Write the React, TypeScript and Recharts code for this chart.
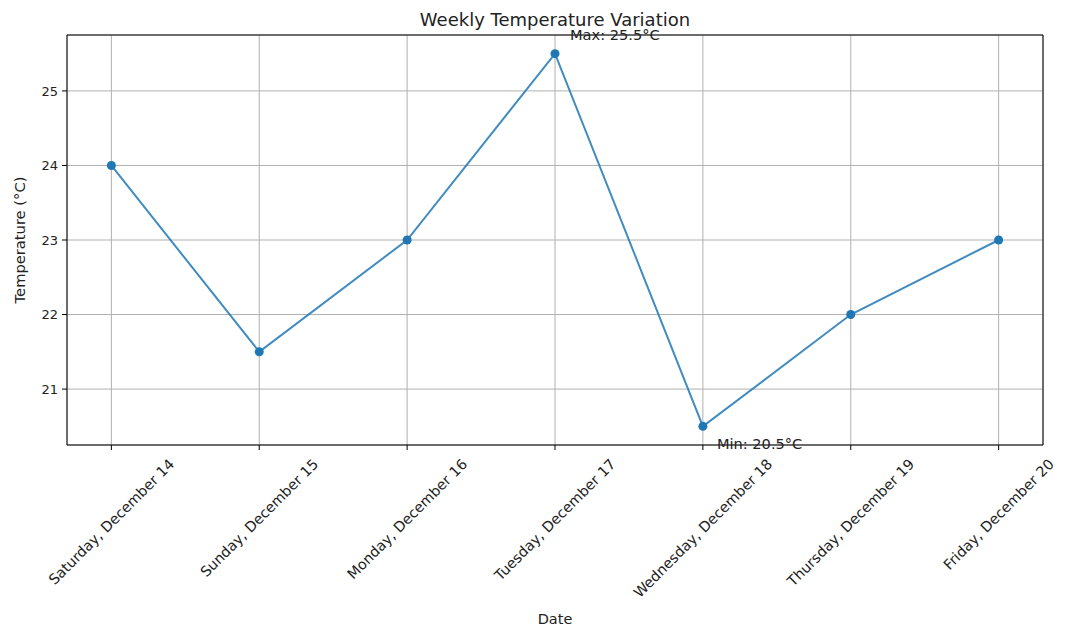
import React from "react";
import {
  LineChart,
  Line,
  XAxis,
  YAxis,
  CartesianGrid,
  ReferenceArea,
} from "recharts";

const dates = [
  "Saturday, December 14",
  "Sunday, December 15",
  "Monday, December 16",
  "Tuesday, December 17",
  "Wednesday, December 18",
  "Thursday, December 19",
  "Friday, December 20",
];
const temps = [24, 21.5, 23, 25.5, 20.5, 22, 23];
const yTicks = [21, 22, 23, 24, 25];
const xTicks = [0, 1, 2, 3, 4, 5, 6];

const FONT = '"DejaVu Sans", sans-serif';
const XTICK_FS = 14.3;
const YTICK_FS = 13;
const LABEL_FS = 14.6;
const BLUE = "#1f77b4";

let measureCtx: CanvasRenderingContext2D | null = null;
function textWidth(s: string, fs: number) {
  if (!measureCtx) measureCtx = document.createElement("canvas").getContext("2d");
  if (!measureCtx) return s.length * fs * 0.6;
  measureCtx.font = `${fs}px ${FONT}`;
  return measureCtx.measureText(s).width;
}

const chartData = temps.map((t, i) => ({ idx: i, date: dates[i], temp: t }));
const maxIdx = temps.indexOf(Math.max(...temps));
const minIdx = temps.indexOf(Math.min(...temps));

function XTick(props: any) {
  const { x, y, payload } = props;
  const label = dates[payload.value] ?? "";
  const L = textWidth(label, XTICK_FS);
  const h = XTICK_FS * 1.1;
  const half = ((L + h) * Math.SQRT1_2) / 2;
  const cx = x;
  const cy = y + 4 + half;
  return (
    <text
      x={cx}
      y={cy}
      textAnchor="middle"
      dominantBaseline="central"
      transform={`rotate(-45 ${cx} ${cy})`}
      fontSize={XTICK_FS}
      fontFamily={FONT}
      fill="#222"
    >
      {label}
    </text>
  );
}

function Dot(props: any) {
  const { cx, cy, index } = props;
  return (
    <g key={`dot-${index}`}>
      <circle cx={cx} cy={cy} r={4.5} fill={BLUE} />
      {index === maxIdx && (
        <text x={cx + 15} y={cy - 14} fontSize={LABEL_FS} fontFamily={FONT} fill="#222">
          {`Max: ${temps[index]}°C`}
        </text>
      )}
      {index === minIdx && (
        <text x={cx + 14} y={cy + 23} fontSize={LABEL_FS} fontFamily={FONT} fill="#222">
          {`Min: ${temps[index]}°C`}
        </text>
      )}
    </g>
  );
}

export default function App() {
  return (
    <div style={{ position: "absolute", left: 0, top: 0, width: 1068, height: 636, background: "#fff" }}>
      <LineChart
        width={1068}
        height={636}
        data={chartData}
        margin={{ top: 35, right: 25, bottom: 10, left: 10 }}
      >
        <text x={555} y={26} textAnchor="middle" fontSize={18} fontFamily={FONT} fill="#222">
          Weekly Temperature Variation
        </text>
        <text x={555} y={624} textAnchor="middle" fontSize={14.5} fontFamily={FONT} fill="#222">
          Date
        </text>
        <text
          x={25}
          y={240}
          textAnchor="middle"
          fontSize={14.7}
          fontFamily={FONT}
          fill="#222"
          transform="rotate(-90 25 240)"
        >
          Temperature (°C)
        </text>
        <CartesianGrid stroke="#b0b0b0" strokeWidth={1} />
        <XAxis
          dataKey="idx"
          type="number"
          domain={[-0.3, 6.3]}
          ticks={xTicks}
          interval={0}
          height={181}
          tickSize={5}
          tick={<XTick />}
          axisLine={false}
          tickLine={{ stroke: "#000" }}
          allowDecimals={false}
        />
        <YAxis
          type="number"
          domain={[20.25, 25.75]}
          ticks={yTicks}
          width={57}
          tickSize={5}
          tickMargin={4}
          axisLine={false}
          tickLine={{ stroke: "#000" }}
          tick={{ fontSize: YTICK_FS, fontFamily: FONT, fill: "#222" }}
        />
        <ReferenceArea
          x1={-0.3}
          x2={6.3}
          y1={20.25}
          y2={25.75}
          fill="none"
          fillOpacity={0}
          stroke="#000"
          strokeWidth={1}
          ifOverflow="visible"
        />
        <Line
          type="linear"
          dataKey="temp"
          stroke={BLUE}
          strokeOpacity={0.85}
          strokeWidth={2}
          dot={(p: any) => <Dot {...p} />}
          activeDot={false}
          isAnimationActive={false}
        />
      </LineChart>
    </div>
  );
}
